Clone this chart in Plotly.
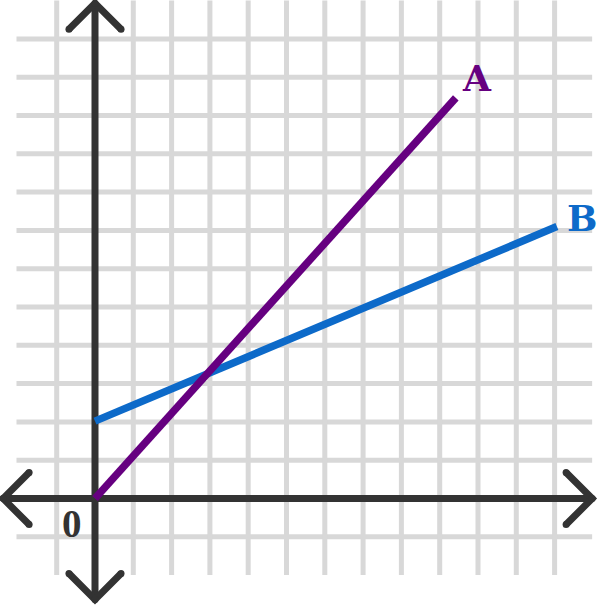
import plotly.graph_objects as go

# ---- data ----
line_a_x = [0, 9.42]
line_a_y = [0, 10.46]
line_b_x = [0, 12.06]
line_b_y = [2.02, 7.10]
labels = ["A", "B", "0"]
label_x = [9.97, 12.71, -0.60]
label_y = [10.98, 7.32, -0.64]
grid_ticks = list(range(-1, 13))

COL_A = "#660080"
COL_B = "#0d6ac9"
AXIS = "#333333"
GRID = "#d8d8d8"
label_colors = [COL_A, COL_B, AXIS]
label_fonts = ["DejaVu Serif", "DejaVu Serif", "Liberation Serif"]
label_sizes = [36, 36, 39]

S = 38.3
OX, OY = 95.0, 498.5
W, H = 600, 606
xr = [-OX / S, (W - OX) / S]
yr = [(OY - H) / S, OY / S]

fig = go.Figure()
shapes = []
for t in grid_ticks:
    shapes.append(dict(type="line", x0=t, x1=t, y0=-2.0, y1=13.0, layer="below",
                       line=dict(color=GRID, width=5)))
    shapes.append(dict(type="line", x0=-2.05, x1=12.98, y0=t, y1=t, layer="below",
                       line=dict(color=GRID, width=5)))

# axes with chevron arrowheads
ax_l, ax_r = -2.40, 12.98
ay_b, ay_t = -2.64, 12.93
a = 0.68
AW = 7
shapes.append(dict(type="line", x0=ax_l, x1=ax_r, y0=0, y1=0, layer="below",
                   line=dict(color=AXIS, width=AW)))
shapes.append(dict(type="line", x0=0, x1=0, y0=ay_b, y1=ay_t, layer="below",
                   line=dict(color=AXIS, width=AW)))

heads = [
    ([ax_r - a, ax_r, ax_r - a], [a, 0, -a]),
    ([ax_l + a, ax_l, ax_l + a], [a, 0, -a]),
    ([-a, 0, a], [ay_t - a, ay_t, ay_t - a]),
    ([-a, 0, a], [ay_b + a, ay_b, ay_b + a]),
]
for hx, hy in heads:
    fig.add_trace(go.Scatter(x=hx, y=hy, mode="lines+markers",
                             line=dict(color=AXIS, width=AW),
                             marker=dict(color=AXIS, size=AW, line=dict(width=0)),
                             hoverinfo="skip", showlegend=False))

fig.add_trace(go.Scatter(x=line_b_x, y=line_b_y, mode="lines",
                         line=dict(color=COL_B, width=7.5), showlegend=False))
fig.add_trace(go.Scatter(x=line_a_x, y=line_a_y, mode="lines",
                         line=dict(color=COL_A, width=7.5), showlegend=False))

annotations = []
for t, x, y, c, f, s in zip(labels, label_x, label_y, label_colors, label_fonts, label_sizes):
    annotations.append(dict(x=x, y=y, text=f"<b>{t}</b>", showarrow=False,
                            xanchor="center", yanchor="middle",
                            font=dict(family=f, size=s, color=c)))

fig.update_layout(
    width=W, height=H,
    margin=dict(l=0, r=0, t=0, b=0),
    paper_bgcolor="white", plot_bgcolor="white",
    xaxis=dict(range=xr, visible=False, fixedrange=True),
    yaxis=dict(range=yr, visible=False, fixedrange=True),
    shapes=shapes, annotations=annotations, showlegend=False,
)
fig.write_html("out.html", config={"displayModeBar": False},
               post_script="document.body.style.margin='0px';document.body.style.padding='0px';")
